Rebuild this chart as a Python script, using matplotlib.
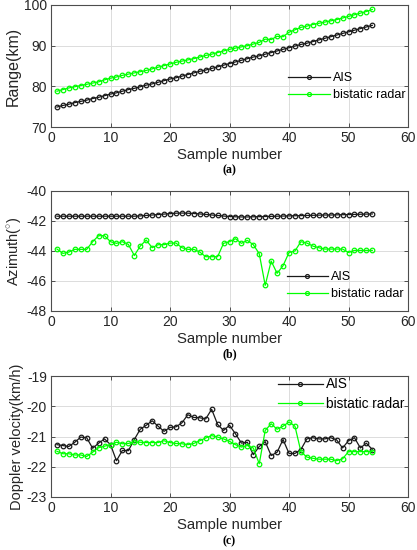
import matplotlib
matplotlib.use("Agg")
import matplotlib.pyplot as plt
import numpy as np

plt.rcParams['font.family'] = ['Liberation Sans', 'DejaVu Sans']
plt.rcParams['mathtext.fontset'] = 'custom'
plt.rcParams['mathtext.rm'] = 'Liberation Sans'
plt.rcParams['axes.unicode_minus'] = False

samples = list(range(1, 55))

range_ais = [74.9, 75.3, 75.6, 76.0, 76.3, 76.6, 77.0, 77.3, 77.7, 78.1,
             78.4, 78.8, 79.2, 79.5, 79.9, 80.3, 80.6, 81.0, 81.4, 81.8,
             82.1, 82.5, 82.9, 83.3, 83.7, 84.0, 84.4, 84.8, 85.2, 85.6,
             86.0, 86.4, 86.8, 87.2, 87.5, 87.9, 88.3, 88.7, 89.1, 89.5,
             89.9, 90.3, 90.6, 91.0, 91.4, 91.8, 92.2, 92.6, 93.0, 93.4,
             93.8, 94.2, 94.6, 95.0]
range_radar = [78.8, 79.2, 79.6, 79.9, 80.2, 80.5, 80.8, 81.1, 81.6, 82.0,
               82.3, 82.7, 83.0, 83.3, 83.6, 83.9, 84.3, 84.7, 85.1, 85.5,
               85.9, 86.2, 86.5, 86.8, 87.2, 87.6, 87.9, 88.3, 88.7, 89.1,
               89.4, 89.7, 90.0, 90.4, 90.8, 91.6, 91.5, 92.3, 92.2, 93.3,
               93.9, 94.5, 94.8, 95.2, 95.5, 95.8, 96.1, 96.4, 96.8, 97.2,
               97.6, 98.0, 98.4, 98.9]

az_ais = [-41.68, -41.68, -41.68, -41.68, -41.68, -41.68, -41.68, -41.68, -41.68, -41.68,
          -41.68, -41.68, -41.68, -41.68, -41.66, -41.63, -41.6, -41.57, -41.54, -41.51,
          -41.48, -41.47, -41.48, -41.5, -41.53, -41.56, -41.6, -41.63, -41.67, -41.7,
          -41.72, -41.73, -41.73, -41.72, -41.71, -41.7, -41.69, -41.68, -41.67, -41.66,
          -41.65, -41.64, -41.63, -41.62, -41.61, -41.6, -41.6, -41.59, -41.58, -41.57,
          -41.56, -41.55, -41.54, -41.53]
az_radar = [-43.87, -44.16, -44.07, -43.89, -43.89, -43.89, -43.38, -42.98, -42.98, -43.38,
            -43.49, -43.38, -43.56, -44.30, -43.67, -43.27, -43.78, -43.58, -43.58, -43.47,
            -43.47, -43.78, -43.89, -43.89, -44.07, -44.38, -44.38, -44.38, -43.49, -43.38,
            -43.18, -43.49, -43.29, -43.58, -44.18, -46.29, -44.67, -45.49, -44.98, -44.10,
            -44.00, -43.38, -43.47, -43.67, -43.78, -43.87, -43.87, -43.87, -43.87, -44.10,
            -43.96, -43.96, -43.96, -43.96]

dop_ais = [-21.27, -21.30, -21.33, -21.19, -21.02, -21.04, -21.39, -21.22, -21.08, -21.27,
           -21.80, -21.46, -21.47, -21.10, -20.76, -20.63, -20.48, -20.66, -20.83, -20.70,
           -20.68, -20.55, -20.28, -20.37, -20.38, -20.42, -20.10, -20.60, -20.80, -20.63,
           -20.91, -21.22, -21.19, -21.60, -21.33, -21.17, -21.63, -21.52, -21.10, -21.56,
           -21.56, -21.43, -21.08, -21.04, -21.08, -21.08, -21.04, -21.11, -21.38, -21.14,
           -21.04, -21.38, -21.22, -21.43]
dop_radar = [-21.49, -21.57, -21.57, -21.61, -21.61, -21.66, -21.52, -21.37, -21.32, -21.27,
             -21.19, -21.24, -21.23, -21.18, -21.19, -21.20, -21.20, -21.20, -21.14, -21.20,
             -21.23, -21.24, -21.27, -21.23, -21.14, -21.05, -20.97, -21.02, -21.08, -21.16,
             -21.27, -21.35, -21.30, -21.38, -21.90, -20.80, -20.58, -20.76, -20.66, -20.52,
             -20.66, -21.50, -21.68, -21.72, -21.75, -21.75, -21.75, -21.80, -21.74, -21.50,
             -21.50, -21.50, -21.50, -21.50]

series_labels = ["AIS", "bistatic radar"]
xticks = [0, 10, 20, 30, 40, 50, 60]
panels = [
    dict(ais=range_ais, radar=range_radar, ylabel="Range(km)", yticks=[70, 80, 90, 100],
         ylim=(70, 100), cap="(a)", leg=(0.665, 0.33), ylfs=11.5, lfs=9.0),
    dict(ais=az_ais, radar=az_radar, ylabel=r"Azimuth($^{\circ}$)", yticks=[-48, -46, -44, -42, -40],
         ylim=(-48, -40), cap="(b)", leg=(0.66, 0.21), ylfs=10.5, lfs=9.0),
    dict(ais=dop_ais, radar=dop_radar, ylabel="Doppler velocity(km/h)", yticks=[-23, -22, -21, -20, -19],
         ylim=(-23, -19), cap="(c)", leg=(0.635, 0.85), ylfs=10.5, lfs=9.8),
]

W, H = 417, 550
fig = plt.figure(figsize=(W / 100, H / 100), dpi=100)
boxes = [(5, 127), (191, 311), (376, 497)]
caps_y = [170, 354, 541]
xl_px, xr_px = 51, 408
spine_col = '#4d4d4d'

for p, (top, bot), cy in zip(panels, boxes, caps_y):
    ax = fig.add_axes([xl_px / W, 1 - bot / H, (xr_px - xl_px) / W, (bot - top) / H])
    ax.plot(samples, p['ais'], color='#1a1a1a', lw=0.9, marker='o', ms=3.3,
            mfc='none', mew=0.9, label=series_labels[0])
    ax.plot(samples, p['radar'], color='#00ff00', lw=0.9, marker='o', ms=3.3,
            mfc='none', mew=0.9, label=series_labels[1])
    ax.set_xlim(0, 60)
    ax.set_ylim(*p['ylim'])
    ax.set_xticks(xticks)
    ax.set_yticks(p['yticks'])
    ax.grid(True, color='#dcdcdc', lw=0.7)
    ax.set_axisbelow(True)
    for s in ax.spines.values():
        s.set_color(spine_col)
        s.set_linewidth(0.8)
    ax.tick_params(direction='in', top=True, right=True, length=3, width=0.7,
                   color=spine_col, labelsize=10, labelcolor='#262626', pad=3)
    ax.set_xlabel("Sample number", fontsize=10.7, color='#262626', labelpad=2)
    ax.set_ylabel(p['ylabel'], fontsize=p['ylfs'], color='#262626', labelpad=2)
    ax.legend(loc='center left', bbox_to_anchor=p['leg'], frameon=False,
              fontsize=p['lfs'], handlelength=3.3, handletextpad=0.25, labelspacing=0.4,
              borderaxespad=0, borderpad=0, markerscale=0.85)
    fig.text(0.5 * (xl_px + xr_px) / W, 1 - cy / H, p['cap'], ha='center', va='center',
             fontsize=8.5, fontweight='bold', family='Liberation Serif')

fig.savefig("out.png", dpi=100)
